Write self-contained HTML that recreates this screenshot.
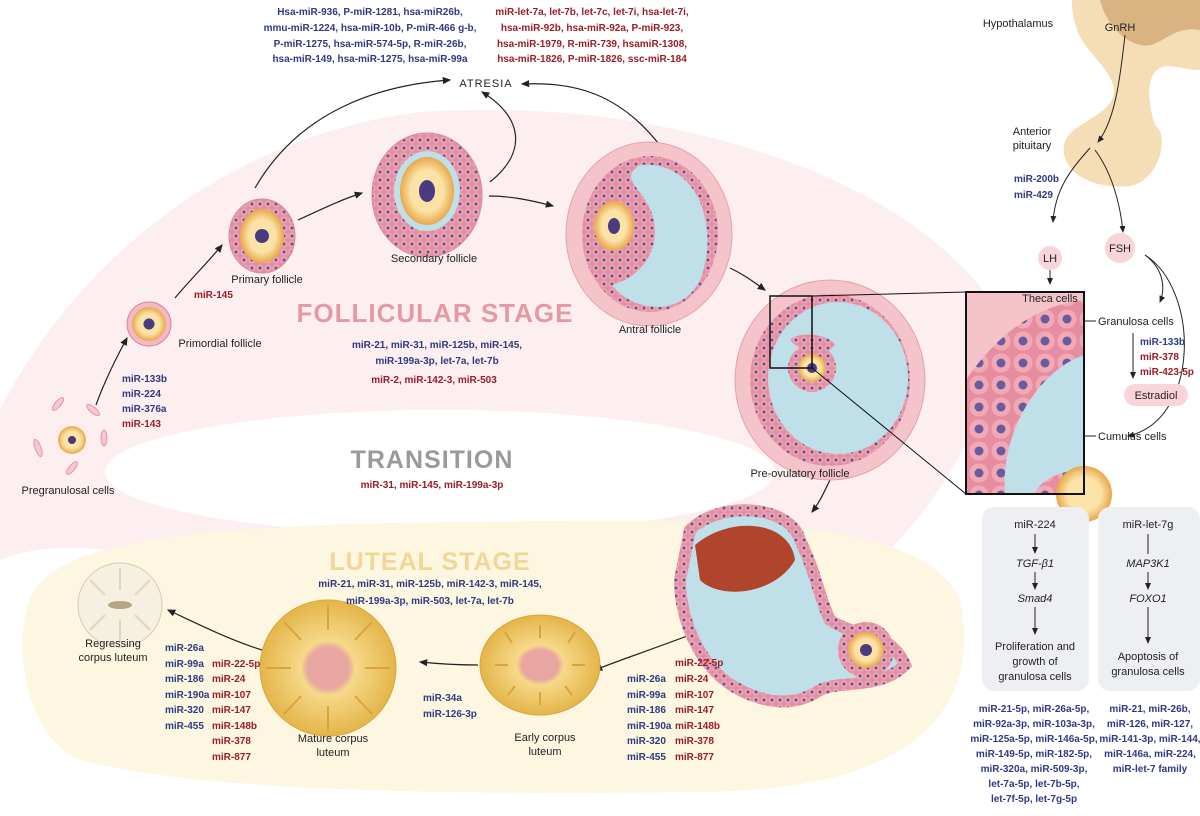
<!DOCTYPE html>
<html><head><meta charset="utf-8"><style>
body{margin:0;background:#fff}
svg{display:block}
text{font-family:"Liberation Sans",sans-serif}
.b{fill:#2d3b82;font-size:10px;font-weight:bold}
.r{fill:#9b1d24;font-size:10px;font-weight:bold}
.k{fill:#222;font-size:11px}
</style></head><body>
<svg width="1200" height="816" viewBox="0 0 1200 816" xmlns="http://www.w3.org/2000/svg">
<defs>
<marker id="a" markerWidth="8" markerHeight="8" refX="6" refY="4" orient="auto"><path d="M0,1 L7,4 L0,7z" fill="#222"/></marker>
<radialGradient id="oo"><stop offset="0.6" stop-color="#fbe3a8"/><stop offset="1" stop-color="#e8a84a"/></radialGradient>
<radialGradient id="cl"><stop offset="0.3" stop-color="#e7a6a0"/><stop offset="0.4" stop-color="#f6d98a"/><stop offset="1" stop-color="#e4b54a"/></radialGradient>
<pattern id="c" width="8" height="8" patternUnits="userSpaceOnUse"><rect width="8" height="8" fill="#e68ea0"/><circle cx="4" cy="4" r="3.4" fill="#f2a9b6"/><circle cx="4" cy="4" r="1.6" fill="#6a5aa0"/></pattern>
<pattern id="cb" width="22" height="22" patternUnits="userSpaceOnUse"><rect width="22" height="22" fill="#e68ea0"/><circle cx="11" cy="11" r="9.5" fill="#f2a9b6"/><circle cx="11" cy="11" r="4.5" fill="#6a5aa0"/></pattern>
</defs>
<!-- backgrounds -->
<path d="M0,410 C60,290 200,140 420,112 C650,95 900,170 990,300 C1010,380 960,480 880,560 C700,600 300,560 80,548 C30,546 0,560 0,560z" fill="#fdeef0"/>
<ellipse cx="440" cy="472" rx="335" ry="62" fill="#fff"/>
<path d="M30,600 C50,540 200,525 450,522 C700,520 920,510 960,600 C980,700 930,790 700,792 C450,795 200,792 80,760 C30,740 10,650 30,600z" fill="#fdf6e1"/>
<!-- stage labels -->
<text x="435" y="322" text-anchor="middle" font-size="26" font-weight="bold" fill="#e59aa3" letter-spacing="1">FOLLICULAR STAGE</text>
<text x="432" y="468" text-anchor="middle" font-size="25" font-weight="bold" fill="#9a9a9a" letter-spacing="1">TRANSITION</text>
<text x="430" y="570" text-anchor="middle" font-size="25" font-weight="bold" fill="#f2d696" letter-spacing="1">LUTEAL STAGE</text>
<!-- arrows -->
<g fill="none" stroke="#222" stroke-width="1.2" marker-end="url(#a)">
<path d="M96,405 C105,380 115,360 127,338"/>
<path d="M175,298 C190,280 210,260 222,245"/>
<path d="M298,220 C320,210 340,200 362,193"/>
<path d="M489,196 C510,196 530,200 553,206"/>
<path d="M730,268 C745,275 755,283 765,290"/>
<path d="M255,188 C300,110 380,85 450,80"/>
<path d="M490,182 C530,150 520,115 482,92"/>
<path d="M665,152 C620,90 570,82 522,84"/>
<path d="M830,480 C825,490 820,502 812,512"/>
<path d="M690,635 C650,650 620,660 595,670"/>
<path d="M478,665 C460,665 440,664 420,662"/>
<path d="M262,650 C230,640 200,625 168,610"/>
</g>
<!-- pregranulosal -->
<g fill="#f7c6cf" stroke="#d98a9a" stroke-width="0.8">
<ellipse cx="58" cy="404" rx="8" ry="3" transform="rotate(-50 58 404)"/>
<ellipse cx="93" cy="410" rx="8" ry="3" transform="rotate(40 93 410)"/>
<ellipse cx="104" cy="438" rx="8" ry="3" transform="rotate(90 104 438)"/>
<ellipse cx="38" cy="448" rx="9" ry="3" transform="rotate(70 38 448)"/>
<ellipse cx="72" cy="468" rx="8" ry="3" transform="rotate(-50 72 468)"/>
</g>
<circle cx="72" cy="440" r="14" fill="url(#oo)"/><circle cx="72" cy="440" r="4" fill="#4a3a80"/>
<!-- primordial -->
<circle cx="149" cy="324" r="22" fill="#f4b9c4" stroke="#d7879a"/><circle cx="149" cy="324" r="17" fill="url(#oo)"/><circle cx="149" cy="324" r="5.5" fill="#4a3a80"/>
<!-- primary -->
<ellipse cx="262" cy="236" rx="33" ry="37" fill="url(#c)" stroke="#d7879a"/><ellipse cx="262" cy="236" rx="22" ry="27" fill="url(#oo)"/><circle cx="262" cy="236" r="7" fill="#4a3a80"/>
<!-- secondary -->
<ellipse cx="427" cy="195" rx="55" ry="62" fill="url(#c)" stroke="#d7879a"/><ellipse cx="427" cy="191" rx="33" ry="40" fill="#bfe0e8"/><ellipse cx="427" cy="191" rx="27" ry="34" fill="url(#oo)"/><ellipse cx="427" cy="191" rx="8" ry="11" fill="#4a3a80"/>
<!-- antral -->
<ellipse cx="649" cy="234" rx="83" ry="92" fill="#f4c4ca" stroke="#e3a2ad"/><ellipse cx="650" cy="234" rx="68" ry="78" fill="url(#c)"/>
<path d="M640,165 C700,160 720,230 700,280 C680,320 630,310 612,285 C650,275 665,235 648,205 C638,185 620,178 640,165z" fill="#bfe0e8"/>
<ellipse cx="614" cy="226" rx="20" ry="25" fill="url(#oo)"/><ellipse cx="614" cy="226" rx="6" ry="8" fill="#4a3a80"/>
<!-- preovulatory -->
<ellipse cx="830" cy="380" rx="95" ry="100" fill="#f4c4ca" stroke="#e3a2ad"/>
<ellipse cx="830" cy="380" rx="80" ry="86" fill="url(#c)"/>
<ellipse cx="838" cy="378" rx="70" ry="76" fill="#bfe0e8"/>
<circle cx="812" cy="368" r="24" fill="url(#c)"/>
<path d="M790,340 C800,330 830,335 835,345 L820,360 C810,352 798,350 790,340z" fill="url(#c)"/>
<circle cx="812" cy="368" r="14" fill="url(#oo)"/><circle cx="812" cy="368" r="5" fill="#4a3a80"/>
<rect x="770" y="296" width="42" height="72" fill="none" stroke="#111" stroke-width="1.5"/>
<line x1="812" y1="296" x2="966" y2="292" stroke="#111"/><line x1="812" y1="368" x2="966" y2="494" stroke="#111"/>
<!-- zoom box -->
<rect x="966" y="292" width="118" height="202" fill="#f4c4ca"/>
<path d="M966,380 C1000,330 1040,305 1084,300 L1084,494 L966,494z" fill="url(#cb)"/>
<path d="M1005,494 C1000,430 1040,370 1084,355 L1084,470 C1060,470 1040,480 1035,494z" fill="#bfe0e8"/>
<circle cx="1084" cy="494" r="28" fill="url(#oo)"/>
<rect x="966" y="292" width="118" height="202" fill="none" stroke="#111" stroke-width="2"/>
<!-- ovulating -->
<path d="M690,530 C720,500 790,505 800,540 C815,570 820,600 830,620 C860,640 890,630 905,665 C880,690 840,680 820,690 C790,710 760,700 740,690 C700,670 680,620 680,580z" fill="#bfe0e8" stroke="url(#c)" stroke-width="12"/>
<path d="M695,545 C730,515 790,520 795,560 C775,595 720,600 700,580z" fill="#b0442c"/>
<circle cx="866" cy="650" r="28" fill="url(#c)"/><circle cx="866" cy="650" r="18" fill="url(#oo)"/><circle cx="866" cy="650" r="6" fill="#4a3a80"/>
<!-- corpora lutea -->
<ellipse cx="540" cy="665" rx="60" ry="50" fill="url(#cl)" stroke="#d9a53a"/>
<g stroke="#d9a53a" stroke-width="2" fill="none">
<path d="M540,625 V638 M575,632 L568,643 M505,632 L512,643 M585,665 H572 M495,665 H508 M540,705 V692 M572,695 L565,686 M508,695 L515,686"/>
</g>
<circle cx="328" cy="668" r="68" fill="url(#cl)" stroke="#d9a53a"/>
<g stroke="#d9a53a" stroke-width="2" fill="none">
<path d="M328,605 V630 M372,622 L355,640 M284,622 L301,640 M390,668 H365 M266,668 H291 M328,731 V706 M372,714 L355,696 M284,714 L301,696"/>
</g>
<circle cx="120" cy="605" r="42" fill="#f6f0e0" stroke="#d6ccb0"/>
<g stroke="#e0d6bb" stroke-width="2" fill="none"><path d="M120,568 V590 M150,580 L135,595 M90,580 L105,595 M150,630 L135,615 M90,630 L105,615 M120,642 V620"/></g>
<ellipse cx="120" cy="605" rx="12" ry="4" fill="#b7a582"/>
<!-- labels -->
<g class="k" text-anchor="middle">
<text x="68" y="494">Pregranulosal cells</text>
<text x="220" y="347">Primordial follicle</text>
<text x="267" y="283">Primary follicle</text>
<text x="434" y="262">Secondary follicle</text>
<text x="650" y="333">Antral follicle</text>
<text x="800" y="477">Pre-ovulatory   follicle</text>
<text x="486" y="87" letter-spacing="1">ATRESIA</text>
<text x="113" y="647">Regressing</text><text x="113" y="661">corpus luteum</text>
<text x="333" y="742">Mature corpus</text><text x="333" y="756">luteum</text>
<text x="545" y="741">Early corpus</text><text x="545" y="755">luteum</text>
</g>
<!-- miR texts -->
<g class="b" text-anchor="middle">
<text x="370" y="15">Hsa-miR-936, P-miR-1281, hsa-miR26b,</text>
<text x="370" y="31">mmu-miR-1224, hsa-miR-10b, P-miR-466 g-b,</text>
<text x="370" y="47">P-miR-1275, hsa-miR-574-5p,  R-miR-26b,</text>
<text x="370" y="62">hsa-miR-149, hsa-miR-1275, hsa-miR-99a</text>
<text x="437" y="348">miR-21, miR-31, miR-125b, miR-145,</text>
<text x="437" y="364">miR-199a-3p, let-7a, let-7b</text>
<text x="430" y="587">miR-21, miR-31, miR-125b, miR-142-3, miR-145,</text>
<text x="430" y="604">miR-199a-3p, miR-503, let-7a, let-7b</text>
</g>
<g class="r" text-anchor="middle">
<text x="592" y="15">miR-let-7a, let-7b, let-7c, let-7i, hsa-let-7i,</text>
<text x="592" y="31">hsa-miR-92b, hsa-miR-92a, P-miR-923,</text>
<text x="592" y="47">hsa-miR-1979, R-miR-739, hsamiR-1308,</text>
<text x="592" y="62">hsa-miR-1826, P-miR-1826, ssc-miR-184</text>
<text x="434" y="383">miR-2, miR-142-3, miR-503</text>
<text x="432" y="488">miR-31, miR-145, miR-199a-3p</text>
</g>
<text class="r" x="194" y="298">miR-145</text>
<g class="b"><text x="122" y="382">miR-133b</text><text x="122" y="397">miR-224</text><text x="122" y="412">miR-376a</text></g>
<text class="r" x="122" y="427">miR-143</text>
<g class="b"><text x="165" y="651">miR-26a</text><text x="165" y="667">miR-99a</text><text x="165" y="682">miR-186</text><text x="165" y="698">miR-190a</text><text x="165" y="713">miR-320</text><text x="165" y="729">miR-455</text></g>
<g class="r"><text x="212" y="667">miR-22-5p</text><text x="212" y="682">miR-24</text><text x="212" y="698">miR-107</text><text x="212" y="713">miR-147</text><text x="212" y="729">miR-148b</text><text x="212" y="744">miR-378</text><text x="212" y="760">miR-877</text></g>
<g class="b"><text x="423" y="701">miR-34a</text><text x="423" y="717">miR-126-3p</text></g>
<g class="b"><text x="627" y="682">miR-26a</text><text x="627" y="698">miR-99a</text><text x="627" y="713">miR-186</text><text x="627" y="729">miR-190a</text><text x="627" y="744">miR-320</text><text x="627" y="760">miR-455</text></g>
<g class="r"><text x="675" y="666">miR-22-5p</text><text x="675" y="682">miR-24</text><text x="675" y="698">miR-107</text><text x="675" y="713">miR-147</text><text x="675" y="729">miR-148b</text><text x="675" y="744">miR-378</text><text x="675" y="760">miR-877</text></g>
<!-- hypothalamus/pituitary -->
<path d="M1072,0 L1200,0 L1200,70 C1180,70 1165,60 1155,72 C1145,85 1150,110 1155,125 C1170,135 1160,180 1130,186 C1090,190 1060,170 1064,145 C1068,125 1100,120 1112,100 C1120,80 1100,65 1085,45 C1075,30 1072,15 1072,0z" fill="#f5ddb5"/>
<path d="M1100,0 L1200,0 L1200,30 C1170,25 1160,50 1140,45 C1120,40 1105,20 1100,0z" fill="#c79a60" opacity="0.6"/>
<text x="1120" y="31" class="k" text-anchor="middle" font-size="10">GnRH</text>
<text x="1018" y="27" class="k" text-anchor="middle" font-size="10">Hypothalamus</text>
<text x="1032" y="135" class="k" text-anchor="middle" font-size="10">Anterior</text>
<text x="1032" y="149" class="k" text-anchor="middle" font-size="10">pituitary</text>
<text class="b" x="1014" y="182">miR-200b</text><text class="b" x="1014" y="198">miR-429</text>
<g fill="none" stroke="#222" stroke-width="1" marker-end="url(#a)">
<path d="M1125,35 C1120,80 1115,120 1098,142"/>
<path d="M1090,148 C1070,170 1055,190 1053,222"/>
<path d="M1095,150 C1110,170 1120,200 1123,232"/>
<path d="M1050,270 L1050,284"/>
<path d="M1145,255 C1165,270 1165,290 1160,302"/>
<path d="M1145,255 C1200,290 1200,420 1128,436"/>
<path d="M1133,333 L1133,378"/>
</g>
<circle cx="1050" cy="258" r="12" fill="#f9d5da"/><text x="1050" y="262" class="k" text-anchor="middle" font-size="10">LH</text>
<circle cx="1120" cy="248" r="15" fill="#f9d5da"/><text x="1120" y="252" class="k" text-anchor="middle" font-size="10">FSH</text>
<text x="1050" y="302" class="k" text-anchor="middle" font-size="10">Theca cells</text>
<text x="1098" y="325" class="k" font-size="10">Granulosa cells</text>
<line x1="1084" y1="321" x2="1096" y2="321" stroke="#222"/>
<text class="b" x="1140" y="345">miR-133b</text><text class="r" x="1140" y="360">miR-378</text><text class="r" x="1140" y="375">miR-423-5p</text>
<rect x="1124" y="384" width="64" height="22" rx="11" fill="#f9d5da"/><text x="1156" y="399" class="k" text-anchor="middle" font-size="10">Estradiol</text>
<text x="1098" y="440" class="k" font-size="10">Cumulus cells</text>
<line x1="1084" y1="436" x2="1096" y2="436" stroke="#222"/>
<!-- gray boxes -->
<rect x="982" y="507" width="107" height="184" rx="12" fill="#eeeff2"/>
<rect x="1098" y="507" width="102" height="184" rx="12" fill="#eeeff2"/>
<g font-size="11" fill="#222" text-anchor="middle">
<text x="1035" y="528">miR-224</text><text x="1035" y="567" font-style="italic">TGF-β1</text><text x="1035" y="602" font-style="italic">Smad4</text>
<text x="1035" y="650">Proliferation and</text><text x="1035" y="665">growth of</text><text x="1035" y="680">granulosa cells</text>
<text x="1148" y="528">miR-let-7g</text><text x="1148" y="567" font-style="italic">MAP3K1</text><text x="1148" y="602" font-style="italic">FOXO1</text>
<text x="1148" y="660">Apoptosis of</text><text x="1148" y="675">granulosa cells</text>
</g>
<g stroke="#222" fill="none">
<path d="M1035,534 L1035,553" marker-end="url(#a)"/><path d="M1035,572 L1035,589" marker-end="url(#a)"/><path d="M1035,607 L1035,634" marker-end="url(#a)"/>
<path d="M1148,534 L1148,554"/><path d="M1148,572 L1148,589" marker-end="url(#a)"/><path d="M1148,607 L1148,643" marker-end="url(#a)"/>
</g>
<g class="b" text-anchor="middle">
<text x="1034" y="712">miR-21-5p, miR-26a-5p,</text><text x="1034" y="727">miR-92a-3p, miR-103a-3p,</text><text x="1034" y="742">miR-125a-5p, miR-146a-5p,</text><text x="1034" y="757">miR-149-5p, miR-182-5p,</text><text x="1034" y="772">miR-320a, miR-509-3p,</text><text x="1034" y="787">let-7a-5p, let-7b-5p,</text><text x="1034" y="802">let-7f-5p, let-7g-5p</text>
<text x="1150" y="712">miR-21, miR-26b,</text><text x="1150" y="727">miR-126, miR-127,</text><text x="1150" y="742">miR-141-3p, miR-144,</text><text x="1150" y="757">miR-146a, miR-224,</text><text x="1150" y="772">miR-let-7 family</text>
</g>
</svg>
</body></html>
